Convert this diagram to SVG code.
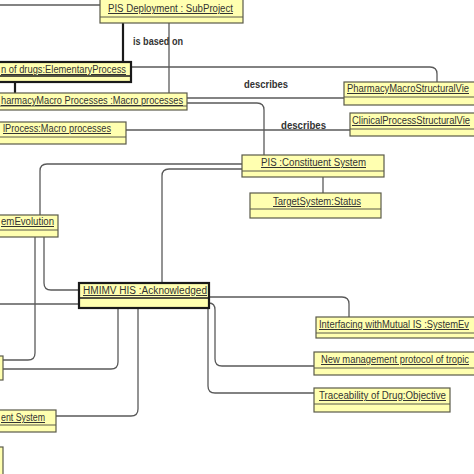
<svg xmlns="http://www.w3.org/2000/svg" width="474" height="474" viewBox="0 0 474 474">
<style>
.box{fill:#ffffb0;stroke:#5a5a4a;stroke-width:1.2}
.bold{fill:#ffffb0;stroke:#1a1a1a;stroke-width:2.2}
.div{stroke:#5a5a4a;stroke-width:1}
.divb{stroke:#1a1a1a;stroke-width:1.6}
.t{font-family:"Liberation Sans",Arial,sans-serif;font-size:10px;fill:#333;text-decoration:underline}
.lbl{font-family:"Liberation Sans",Arial,sans-serif;font-size:10px;font-weight:bold;fill:#333}
.c{fill:none;stroke:#5a5a5a;stroke-width:1.3}
.ck{fill:none;stroke:#1a1a1a;stroke-width:2.2}
</style>
<rect width="474" height="474" fill="#ffffff"/>
<g id="connectors">
<path class="c" d="M0,5 H100"/>
<path class="ck" d="M123,23 V62"/>
<path class="c" d="M169,23 V93"/>
<path class="ck" d="M15,82 V93"/>
<path class="c" d="M131,67 H430 Q437,67 437,74 V82"/>
<path class="c" d="M187,98 H344"/>
<path class="c" d="M187,103 H257 Q264,103 264,110 V155"/>
<path class="c" d="M126,130 H350"/>
<path class="c" d="M242,164 H47 Q40,164 40,171 V215"/>
<path class="c" d="M242,169 H169 Q162,169 162,176 V283"/>
<path class="c" d="M323,177 V193"/>
<path class="c" d="M44,237 V283 Q44,290 51,290 H79"/>
<path class="c" d="M35,237 V353 Q35,360 28,360 H3"/>
<path class="c" d="M0,304 H79"/>
<path class="c" d="M209,297 H342 Q349,297 349,304 V317"/>
<path class="c" d="M209,303 Q215,303 215,310 V359 Q215,366 222,366 H314"/>
<path class="c" d="M208,308 V386 Q208,393 215,393 H314"/>
<path class="c" d="M118,308 V362 Q118,369 111,369 H0"/>
<path class="c" d="M138,308 V409 Q138,416 131,416 H56"/>
<text class="lbl" x="133" y="45" textLength="50" lengthAdjust="spacingAndGlyphs">is based on</text>
<text class="lbl" x="244" y="88" textLength="44" lengthAdjust="spacingAndGlyphs">describes</text>
<text class="lbl" x="281" y="129" textLength="45" lengthAdjust="spacingAndGlyphs">describes</text>
</g>
<g id="pis-deployment">
<rect class="box" x="100" y="-1" width="143" height="24"/>
<line class="div" x1="100" y1="17" x2="243" y2="17"/>
<text class="t" x="108" y="12" textLength="125" lengthAdjust="spacingAndGlyphs">PIS Deployment : SubProject</text>
</g>
<g id="elementary-process">
<rect class="bold" x="-5" y="62" width="136" height="20"/>
<line class="divb" x1="-5" y1="76" x2="131" y2="76"/>
<text class="t" x="1" y="73" textLength="125" lengthAdjust="spacingAndGlyphs">n of drugs:ElementaryProcess</text>
</g>
<g id="pharmacy-macro-processes">
<rect class="box" x="-5" y="93" width="192" height="17"/>
<line class="div" x1="-5" y1="106" x2="187" y2="106"/>
<text class="t" x="1" y="104" textLength="182" lengthAdjust="spacingAndGlyphs">harmacyMacro Processes :Macro processes</text>
</g>
<g id="clinical-process">
<rect class="box" x="-5" y="122" width="131" height="22"/>
<line class="div" x1="-5" y1="137" x2="126" y2="137"/>
<text class="t" x="3" y="132" textLength="108" lengthAdjust="spacingAndGlyphs">lProcess:Macro processes</text>
</g>
<g id="pharmacy-structural-view">
<rect class="box" x="344" y="82" width="140" height="23"/>
<line class="div" x1="344" y1="97" x2="484" y2="97"/>
<text class="t" x="347" y="92" textLength="122" lengthAdjust="spacingAndGlyphs">PharmacyMacroStructuralVie</text>
</g>
<g id="clinical-structural-view">
<rect class="box" x="350" y="113" width="134" height="23"/>
<line class="div" x1="350" y1="129" x2="484" y2="129"/>
<text class="t" x="352" y="124" textLength="118" lengthAdjust="spacingAndGlyphs">ClinicalProcessStructuralVie</text>
</g>
<g id="pis-constituent">
<rect class="box" x="242" y="155" width="142" height="22"/>
<line class="div" x1="242" y1="171" x2="384" y2="171"/>
<text class="t" x="261" y="166" textLength="105" lengthAdjust="spacingAndGlyphs">PIS :Constituent System</text>
</g>
<g id="target-system">
<rect class="box" x="250" y="193" width="131" height="25"/>
<line class="div" x1="250" y1="209" x2="381" y2="209"/>
<text class="t" x="273" y="205" textLength="88" lengthAdjust="spacingAndGlyphs">TargetSystem:Status</text>
</g>
<g id="system-evolution">
<rect class="box" x="-5" y="215" width="63" height="22"/>
<line class="div" x1="-5" y1="230" x2="58" y2="230"/>
<text class="t" x="1" y="225" textLength="53" lengthAdjust="spacingAndGlyphs">emEvolution</text>
</g>
<g id="hmimv-his">
<rect class="bold" x="79" y="283" width="130" height="25"/>
<line class="divb" x1="79" y1="298" x2="209" y2="298"/>
<text class="t" x="83" y="294" textLength="124" lengthAdjust="spacingAndGlyphs">HMIMV HIS :Acknowledged</text>
</g>
<g id="interfacing">
<rect class="box" x="316" y="317" width="168" height="21"/>
<line class="div" x1="316" y1="333" x2="484" y2="333"/>
<text class="t" x="319" y="328" textLength="150" lengthAdjust="spacingAndGlyphs">Interfacing withMutual IS :SystemEv</text>
</g>
<g id="new-management">
<rect class="box" x="314" y="352" width="170" height="23"/>
<line class="div" x1="314" y1="368" x2="484" y2="368"/>
<text class="t" x="321" y="363" textLength="148" lengthAdjust="spacingAndGlyphs">New management protocol of tropic</text>
</g>
<g id="traceability">
<rect class="box" x="314" y="388" width="136" height="24"/>
<line class="div" x1="314" y1="404" x2="450" y2="404"/>
<text class="t" x="319" y="399" textLength="127" lengthAdjust="spacingAndGlyphs">Traceability of Drug:Objective</text>
</g>
<g id="constituent-system">
<rect class="box" x="-5" y="410" width="61" height="22"/>
<line class="div" x1="-5" y1="425" x2="56" y2="425"/>
<text class="t" x="1" y="421" textLength="44" lengthAdjust="spacingAndGlyphs">ent System</text>
</g>
<g id="left-edge-box-1">
<rect class="box" x="-20" y="356" width="23" height="24"/>
</g>
<g id="left-edge-box-2">
<rect class="box" x="-20" y="447" width="23" height="40"/>
</g>
</svg>
